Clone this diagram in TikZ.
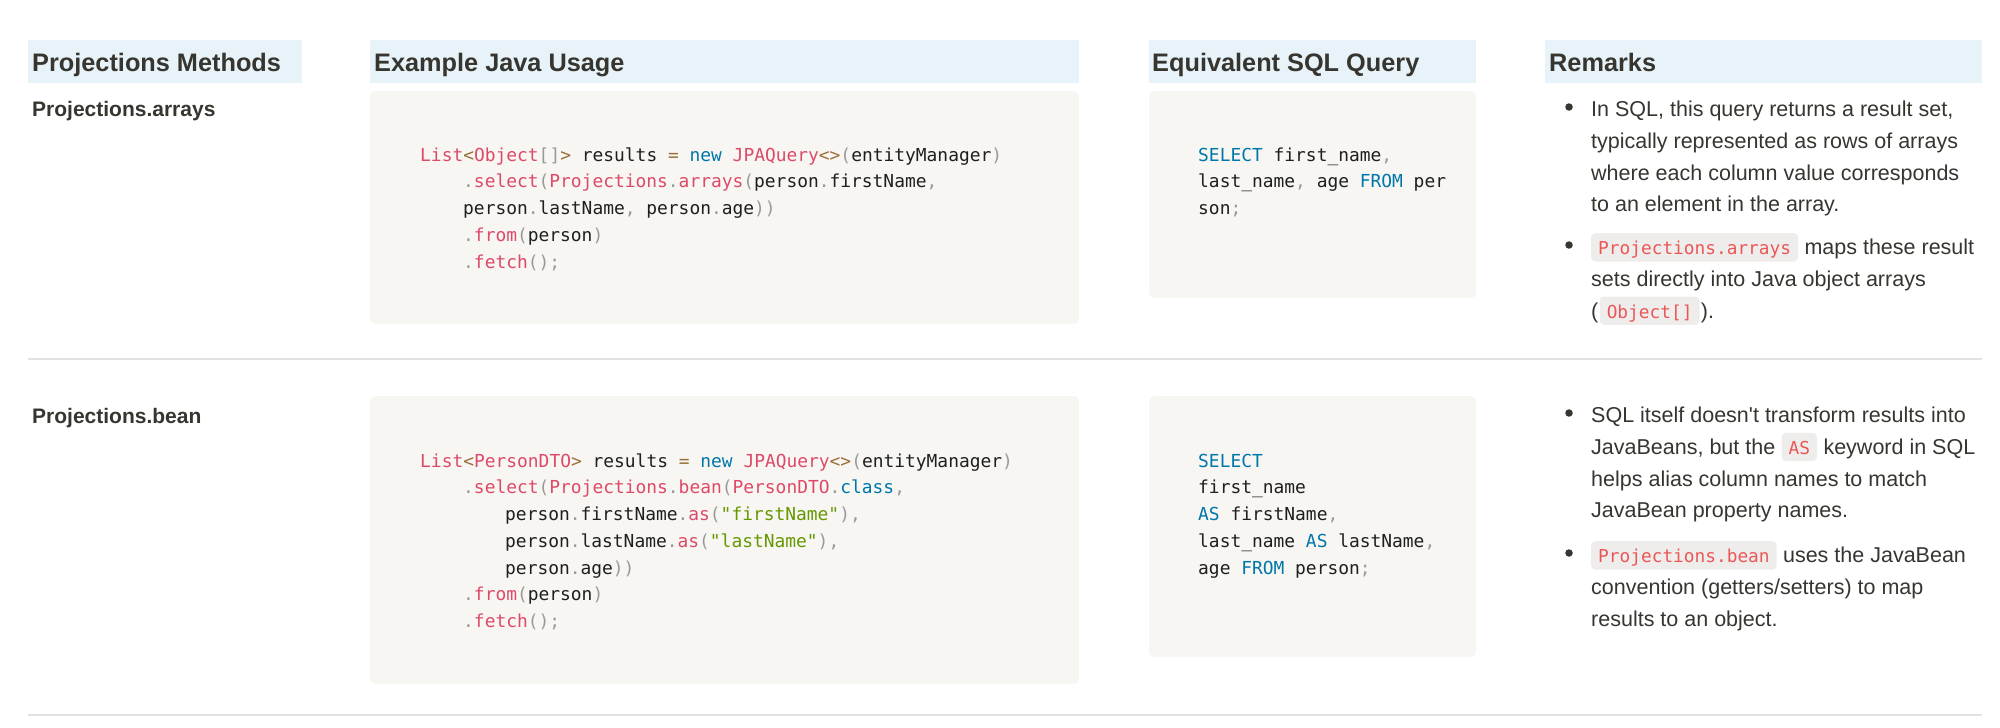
\documentclass[tikz,border=0pt]{standalone}
\usepackage{fontspec}
\setmainfont{Liberation Sans}[Ligatures=TeXOff]
\setmonofont{DejaVu Sans Mono}
\usetikzlibrary{positioning}
\definecolor{hdrbg}{HTML}{E7F3F8}
\definecolor{codebg}{HTML}{F7F6F3}
\definecolor{chipbg}{HTML}{EEEDEB}
\definecolor{chipred}{HTML}{EB5757}
\definecolor{ink}{HTML}{37352F}
\definecolor{codeink}{HTML}{1F1F1F}
\definecolor{rulec}{HTML}{E3E2E0}
\definecolor{fnc}{HTML}{DD4A68}
\definecolor{kwc}{HTML}{0077AA}
\definecolor{opc}{HTML}{9A6E3A}
\definecolor{puc}{HTML}{999999}
\definecolor{stc}{HTML}{669900}
\newcommand\cKw[1]{\textcolor{kwc}{#1}}
\newcommand\cFn[1]{\textcolor{fnc}{#1}}
\newcommand\cPu[1]{\textcolor{puc}{#1}}
\newcommand\cOp[1]{\textcolor{opc}{#1}}
\newcommand\cSt[1]{\textcolor{stc}{#1}}
\tikzset{
  hdrbox/.style={fill=hdrbg},
  codebox/.style={fill=codebg, rounded corners=5pt},
  hdrtxt/.style={anchor=base west, inner sep=0pt, text=ink, font=\fontsize{25.3}{30}\selectfont\bfseries},
  lbltxt/.style={anchor=base west, inner sep=0pt, text=ink, font=\fontsize{21}{25}\selectfont\bfseries},
  txt/.style={anchor=base west, inner sep=0pt, text=ink, font=\fontsize{21.5}{26}\selectfont},
  code/.style={anchor=base west, inner sep=0pt, text=codeink, font=\fontsize{17.9}{22}\selectfont\ttfamily},
  chip/.style={anchor=base west, fill=chipbg, rounded corners=4pt, text=chipred, inner xsep=7pt, inner ysep=5.5pt, text height=16pt, text depth=1.3pt, font=\fontsize{17.8}{22}\selectfont\ttfamily},
  bullet/.style={circle, fill=ink, inner sep=0pt, minimum size=7.5pt},
  sep/.style={draw=rulec, line width=1.6pt}
}
\begin{document}
\begin{tikzpicture}[x=1pt,y=-1pt]
\useasboundingbox (0,0) rectangle (2000,728);
% header backgrounds
\fill[hdrbox] (28,40) rectangle (302,83);
\fill[hdrbox] (370,40) rectangle (1079,83);
\fill[hdrbox] (1149,40) rectangle (1476,83);
\fill[hdrbox] (1545,40) rectangle (1982,83);
\node[hdrtxt] (h1) at (32,71) {Projections Methods};
\node[hdrtxt] (h2) at (374,71) {Example Java Usage};
\node[hdrtxt] (h3) at (1152,71) {Equivalent SQL Query};
\node[hdrtxt] (h4) at (1549,71) {Remarks};
% code boxes
\fill[codebox] (370,91) rectangle (1079,324);
\fill[codebox] (1149,91) rectangle (1476,298);
\fill[codebox] (370,396) rectangle (1079,684);
\fill[codebox] (1149,396) rectangle (1476,657);
% separators
\coordinate (s1a) at (28,359); \coordinate (s1b) at (1982,359);
\coordinate (s2a) at (28,715); \coordinate (s2b) at (1982,715);
\draw[sep] (s1a) -- (s1b);
\draw[sep] (s2a) -- (s2b);
% row labels
\node[lbltxt] (r1) at (32,116.7) {Projections.arrays};
\node[lbltxt] (r2) at (32,423) {Projections.bean};
% Java code row 1
\node[code] (j11) at (420,161) {\cFn{List}\cOp{<}\cFn{Object}\cPu{[]}\cOp{>} results \cOp{=} \cKw{new} \cFn{JPAQuery}\cOp{<>}\cPu{(}entityManager\cPu{)}};
\node[code] (j12) at (463,187.75) {\cPu{.}\cFn{select}\cPu{(}\cFn{Projections}\cPu{.}\cFn{arrays}\cPu{(}person\cPu{.}firstName\cPu{,}};
\node[code] (j13) at (463,214.5) {person\cPu{.}lastName\cPu{,} person\cPu{.}age\cPu{))}};
\node[code] (j14) at (463,241.25) {\cPu{.}\cFn{from}\cPu{(}person\cPu{)}};
\node[code] (j15) at (463,268) {\cPu{.}\cFn{fetch}\cPu{();}};
% SQL row 1
\node[code] (q11) at (1198,161) {\cKw{SELECT} first\_name\cPu{,}};
\node[code] (q12) at (1198,187.75) {last\_name\cPu{,} age \cKw{FROM} per};
\node[code] (q13) at (1198,214.5) {son\cPu{;}};
% Java code row 2
\node[code] (j21) at (420,467) {\cFn{List}\cOp{<}\cFn{PersonDTO}\cOp{>} results \cOp{=} \cKw{new} \cFn{JPAQuery}\cOp{<>}\cPu{(}entityManager\cPu{)}};
\node[code] (j22) at (463,493.75) {\cPu{.}\cFn{select}\cPu{(}\cFn{Projections}\cPu{.}\cFn{bean}\cPu{(}\cFn{PersonDTO}\cPu{.}\cKw{class}\cPu{,}};
\node[code] (j23) at (505,520.5) {person\cPu{.}firstName\cPu{.}\cFn{as}\cPu{(}\cSt{"firstName"}\cPu{),}};
\node[code] (j24) at (505,547.25) {person\cPu{.}lastName\cPu{.}\cFn{as}\cPu{(}\cSt{"lastName"}\cPu{),}};
\node[code] (j25) at (505,574) {person\cPu{.}age\cPu{))}};
\node[code] (j26) at (463,600.75) {\cPu{.}\cFn{from}\cPu{(}person\cPu{)}};
\node[code] (j27) at (463,627.5) {\cPu{.}\cFn{fetch}\cPu{();}};
% SQL row 2
\node[code] (q21) at (1198,467) {\cKw{SELECT}};
\node[code] (q22) at (1198,493.75) {first\_name};
\node[code] (q23) at (1198,520.5) {\cKw{AS} firstName\cPu{,}};
\node[code] (q24) at (1198,547.25) {last\_name \cKw{AS} lastName\cPu{,}};
\node[code] (q25) at (1198,574) {age \cKw{FROM} person\cPu{;}};
% Remarks row 1
\node[bullet] (b11) at (1569,107) {};
\node[txt] (t111) at (1591,116.7) {In SQL, this query returns a result set,};
\node[txt] (t112) at (1591,148.4) {typically represented as rows of arrays};
\node[txt] (t113) at (1591,180) {where each column value corresponds};
\node[txt] (t114) at (1591,211.7) {to an element in the array.};
\node[bullet] (b12) at (1569,245) {};
\node[chip] (c121) at (1591,254.7) {Projections.arrays};
\node[txt, right=6pt of c121.base east, anchor=base west] (t121) {maps these result};
\node[txt] (t122) at (1591,286.4) {sets directly into Java object arrays};
\node[txt] (t123a) at (1591,318) {(};
\node[chip, right=1pt of t123a.base east, anchor=base west] (c123) {Object[]};
\node[txt, right=1pt of c123.base east, anchor=base west] (t123b) {).};
% Remarks row 2
\node[bullet] (b21) at (1569,413) {};
\node[txt] (t211) at (1591,422.7) {SQL itself doesn't transform results into};
\node[txt] (t212a) at (1591,454.4) {JavaBeans, but the};
\node[chip, right=6pt of t212a.base east, anchor=base west] (c212) {AS};
\node[txt, right=6pt of c212.base east, anchor=base west] (t212b) {keyword in SQL};
\node[txt] (t213) at (1591,486) {helps alias column names to match};
\node[txt] (t214) at (1591,517.7) {JavaBean property names.};
\node[bullet] (b22) at (1569,553) {};
\node[chip] (c221) at (1591,562.7) {Projections.bean};
\node[txt, right=6pt of c221.base east, anchor=base west] (t221) {uses the JavaBean};
\node[txt] (t222) at (1591,594.4) {convention (getters/setters) to map};
\node[txt] (t223) at (1591,626) {results to an object.};
\end{tikzpicture}
\end{document}
